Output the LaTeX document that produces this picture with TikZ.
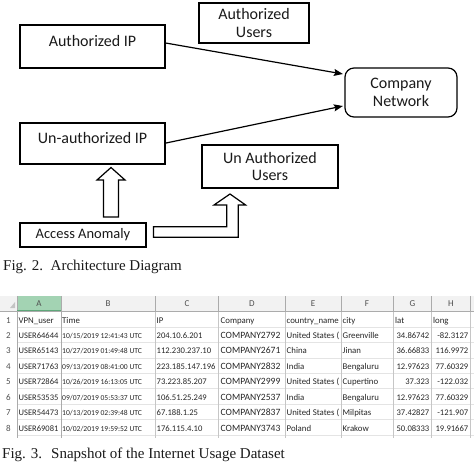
\documentclass[tikz,border=0pt]{standalone}
\usepackage{fontspec}
\setmainfont{Liberation Serif}
\newfontfamily\carl{Carlito}
\usetikzlibrary{arrows.meta,calc}
\definecolor{ink}{HTML}{1A1A1A}
\definecolor{hdrbg}{HTML}{F2F2F2}
\definecolor{selg}{HTML}{A3D3B3}
\definecolor{selgd}{HTML}{5FA77A}
\definecolor{gridv}{HTML}{C6C6C6}
\definecolor{gridh}{HTML}{E4E4E4}
\definecolor{hdrline}{HTML}{ABABAB}
\definecolor{celltx}{HTML}{262626}
\definecolor{hdrtx}{HTML}{505050}
\newcommand\rowy[1]{{320+15.45*(#1-1)}}
\newcommand\sheetrow[9]{%
  \node[rownum] (n#1) at (8.5,\rowy{#1}) {#1};
  \node[cellw,font=\carl\fontsize{8.5}{10}\selectfont] (a#1) at (18.5,\rowy{#1}) {#2};
  \node[cellw,font=\carl\fontsize{7.6}{9}\selectfont] (b#1) at (62,\rowy{#1}) {#3};
  \node[cellw,font=\carl\fontsize{8.6}{10}\selectfont] (c#1) at (156.5,\rowy{#1}) {#4};
  \node[cellw,font=\carl\fontsize{9.6}{11}\selectfont] (d#1) at (220.5,\rowy{#1}) {#5};
  \node[cellw] (e#1) at (286.5,\rowy{#1}) {#6};
  \node[cellw] (f#1) at (342.5,\rowy{#1}) {#7};
  \node[celle] (g#1) at (429.5,\rowy{#1}) {#8};
  \node[celle] (h#1) at (468.5,\rowy{#1}) {#9};
}
\begin{document}
\begin{tikzpicture}[x=1pt,y=-1pt,
  box/.style={draw=black,line width=1.2pt,fill=white,inner sep=0pt,align=center,
    text=ink,font=\carl\fontsize{16}{17.5}\selectfont},
  upbox/.style={box,text height=8pt,text depth=8pt},
  conn/.style={draw=black,line width=1.2pt,-{Stealth[length=9pt,width=7pt,inset=1.5pt]}},
  block/.style={draw=black,line width=1.2pt,fill=white,line join=miter},
  caption/.style={anchor=west,inner sep=0pt,text=ink,font=\fontsize{15}{18}\selectfont},
  cellw/.style={anchor=west,inner sep=0pt,text=celltx,text height=6pt,text depth=0pt,
    font=\carl\fontsize{8.8}{10}\selectfont},
  celle/.style={cellw,anchor=east,font=\carl\fontsize{8.6}{10}\selectfont},
  rownum/.style={inner sep=0pt,text=hdrtx,text height=6pt,text depth=0pt,
    font=\carl\fontsize{9}{10}\selectfont},
  colhdr/.style={rownum}]
\useasboundingbox (0,0) rectangle (474,465);

% ---------- architecture diagram ----------
\node[box,minimum width=110pt,minimum height=40pt] (au) at (254,23) {Authorized\\Users};
\node[upbox,minimum width=145pt,minimum height=43pt] (aip) at (92.5,46.5) {Authorized IP};
\node[box,rounded corners=9pt,minimum width=112pt,minimum height=49pt] (cn) at (401,92.5) {Company\\Network};
\node[upbox,minimum width=145pt,minimum height=41pt] (uip) at (92.5,143.5) {Un-authorized IP};
\node[box,minimum width=136pt,minimum height=43pt] (uau) at (270,166.5) {Un Authorized\\Users};
\node[box,minimum width=126pt,minimum height=24pt,font=\carl\fontsize{14.5}{16}\selectfont] (aa) at (83,235) {Access Anomaly};

\draw[conn] ($(aip.east)+(0,-3.5)$) -- ($(cn.west)+(-1.5,-18.5)$);
\draw[conn] ($(uip.east)+(0.5,-0.5)$) -- ($(cn.west)+(-1.5,13.5)$);

% hollow block arrows
\draw[block] (103.5,217) -- (103.5,180) -- (97,180) -- (111,167.5) -- (125,180)
  -- (118.5,180) -- (118.5,217) -- cycle;
\draw[block] (153.5,226.7) -- (226.7,226.7) -- (226.7,205) -- (214,205) -- (230,194)
  -- (245.6,205) -- (238.3,205) -- (238.3,237.3) -- (153.5,237.3) -- cycle;

\node[caption] (cap2) at (3,267) {Fig. 2.\hspace{7.5pt}Architecture Diagram};

% ---------- spreadsheet ----------
\fill[hdrbg] (0,296) rectangle (474,311);
\fill[selg] (17,296) rectangle (61,311);
\fill[hdrline!70] (10,308) -- (15,308) -- (15,302) -- cycle;
\foreach \k in {1,...,8}{
  \draw[gridh,line width=0.8pt] (17,{311.6+15.45*\k}) -- (474,{311.6+15.45*\k});
}
\foreach \xx in {155,218,285,341,393,431.5,470}{
  \draw[gridv,line width=0.8pt] (\xx,311) -- (\xx,438);
  \draw[hdrline,line width=0.8pt] (\xx,296) -- (\xx,311);
}
\draw[hdrline,line width=0.8pt] (61,296) -- (61,438);
\draw[hdrline,line width=0.8pt] (17,296) -- (17,438);
\draw[hdrline,line width=0.9pt] (0,311) -- (474,311);
\draw[selgd,line width=1.3pt] (17,310.6) -- (61,310.6);

\node[colhdr] (hA) at (39,303.5) {A};
\node[colhdr] (hB) at (108,303.5) {B};
\node[colhdr] (hC) at (187,303.5) {C};
\node[colhdr] (hD) at (252,303.5) {D};
\node[colhdr] (hE) at (313,303.5) {E};
\node[colhdr] (hF) at (367,303.5) {F};
\node[colhdr] (hG) at (412.5,303.5) {G};
\node[colhdr] (hH) at (451,303.5) {H};

\node[rownum] (n1) at (8.5,320) {1};
\node[cellw] (a1) at (18.5,320) {VPN\_user};
\node[cellw] (b1) at (62,320) {Time};
\node[cellw] (c1) at (156.5,320) {IP};
\node[cellw] (d1) at (220.5,320) {Company};
\node[cellw] (e1) at (286.5,320) {country\_name};
\node[cellw] (f1) at (342.5,320) {city};
\node[cellw] (g1) at (395,320) {lat};
\node[cellw] (h1) at (433,320) {long};

\sheetrow{2}{USER64644}{10/15/2019 12:41:43 UTC}{204.10.6.201}{COMPANY2792}{United States (}{Greenville}{34.86742}{-82.3127}
\sheetrow{3}{USER65143}{10/27/2019 01:49:48 UTC}{112.230.237.10}{COMPANY2671}{China}{Jinan}{36.66833}{116.9972}
\sheetrow{4}{USER71763}{09/13/2019 08:41:00 UTC}{223.185.147.196}{COMPANY2832}{India}{Bengaluru}{12.97623}{77.60329}
\sheetrow{5}{USER72864}{10/26/2019 16:13:05 UTC}{73.223.85.207}{COMPANY2999}{United States (}{Cupertino}{37.323}{-122.032}
\sheetrow{6}{USER53535}{09/07/2019 05:53:37 UTC}{106.51.25.249}{COMPANY2537}{India}{Bengaluru}{12.97623}{77.60329}
\sheetrow{7}{USER54473}{10/13/2019 02:39:48 UTC}{67.188.1.25}{COMPANY2837}{United States (}{Milpitas}{37.42827}{-121.907}
\sheetrow{8}{USER69081}{10/02/2019 19:59:52 UTC}{176.115.4.10}{COMPANY3743}{Poland}{Krakow}{50.08333}{19.91667}

\node[caption] (cap3) at (2,455) {Fig. 3.\hspace{9pt}Snapshot of the Internet Usage Dataset};
\end{tikzpicture}
\end{document}
